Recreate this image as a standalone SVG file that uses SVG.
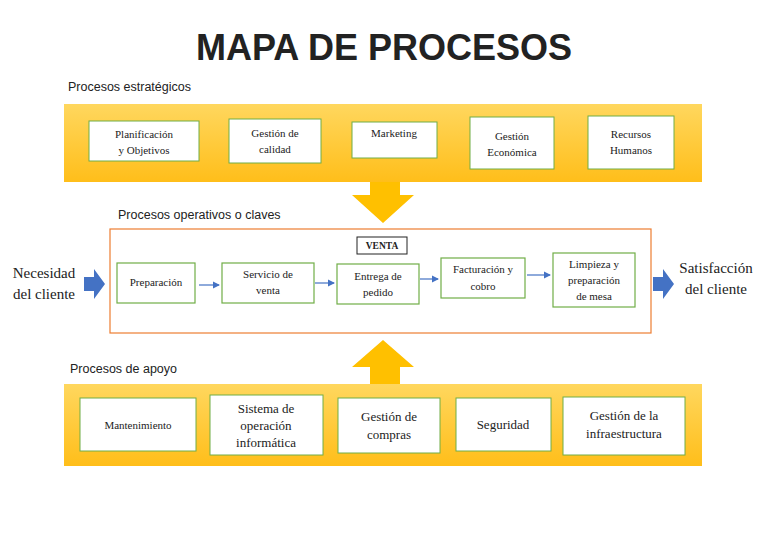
<svg xmlns="http://www.w3.org/2000/svg" width="768" height="543" viewBox="0 0 768 543">
<defs>
<linearGradient id="yg" x1="0" y1="0" x2="0" y2="1"><stop offset="0" stop-color="#FFD75E"/><stop offset="1" stop-color="#FFBE1A"/></linearGradient>
<marker id="ah" markerWidth="6" markerHeight="6" refX="5" refY="3" orient="auto"><path d="M0,0 L6,3 L0,6 z" fill="#4472C4"/></marker>
</defs>
<style>
.band{fill:url(#yg)}
.ybox{fill:#fff;stroke:#70AD47;stroke-width:1}
.gbox{fill:#fff;stroke:#70AD47;stroke-width:1.2}
.t{font-family:"Liberation Serif",serif;font-size:11px;fill:#222;text-anchor:middle}
.tb{font-family:"Liberation Serif",serif;font-size:13px;fill:#222;text-anchor:middle}
.lab{font-family:"Liberation Sans",sans-serif;font-size:12.5px;fill:#222}
.side{font-family:"Liberation Serif",serif;font-size:15px;fill:#222;text-anchor:middle}
.big{fill:#FFC000}
.blue{fill:#4472C4}
.con{stroke:#4472C4;stroke-width:1.2;fill:none;marker-end:url(#ah)}
</style>
<rect width="768" height="543" fill="#fff"/>
<text x="384" y="60" font-family="Liberation Sans,sans-serif" font-weight="bold" font-size="36" text-anchor="middle" fill="#222">MAPA DE PROCESOS</text>
<text class="lab" x="68" y="91">Procesos estratégicos</text>
<rect class="band" x="64" y="104" width="638" height="78"/>
<g id="n-plan"><rect class="ybox" x="89" y="121" width="110" height="40"/><text class="t" x="144" y="138">Planificación</text><text class="t" x="144" y="154">y Objetivos</text></g>
<g id="n-calidad"><rect class="ybox" x="229" y="119" width="92" height="44"/><text class="t" x="275" y="137">Gestión de</text><text class="t" x="275" y="153">calidad</text></g>
<g id="n-mkt"><rect class="ybox" x="352" y="122" width="85" height="36"/><text class="t" x="394" y="137">Marketing</text></g>
<g id="n-eco"><rect class="ybox" x="470" y="117" width="84" height="52"/><text class="t" x="512" y="140">Gestión</text><text class="t" x="512" y="156">Económica</text></g>
<g id="n-rh"><rect class="ybox" x="588" y="116" width="86" height="53"/><text class="t" x="631" y="138">Recursos</text><text class="t" x="631" y="154">Humanos</text></g>
<path class="big" d="M370,182 H400 V195 H414 L383,223 L352,195 H370 Z"/>
<text class="lab" x="118" y="219">Procesos operativos o claves</text>
<g id="n-op"><rect x="110" y="229" width="541" height="104" fill="#fff" stroke="#ED7D31" stroke-width="1.2"/></g>
<g id="n-venta"><rect x="357" y="237" width="50" height="17" fill="#fff" stroke="#222" stroke-width="1"/><text x="382" y="249" font-family="Liberation Serif,serif" font-weight="bold" font-size="9.5" text-anchor="middle" fill="#222">VENTA</text></g>
<g id="n-prep"><rect class="gbox" x="117" y="263" width="78" height="40"/><text class="t" x="156" y="286">Preparación</text></g>
<g id="n-serv"><rect class="gbox" x="222" y="263" width="92" height="40"/><text class="t" x="268" y="278">Servicio de</text><text class="t" x="268" y="294">venta</text></g>
<g id="n-entr"><rect class="gbox" x="337" y="264" width="82" height="40"/><text class="t" x="378" y="280">Entrega de</text><text class="t" x="378" y="296">pedido</text></g>
<g id="n-fact"><rect class="gbox" x="441" y="258" width="84" height="40"/><text class="t" x="483" y="273">Facturación y</text><text class="t" x="483" y="290">cobro</text></g>
<g id="n-limp"><rect class="gbox" x="553" y="253" width="82" height="54"/><text class="t" x="594" y="268">Limpieza y</text><text class="t" x="594" y="284">preparación</text><text class="t" x="594" y="300">de mesa</text></g>
<g id="n-nec"><text class="side" x="44" y="278">Necesidad</text><text class="side" x="44" y="299">del cliente</text><path class="blue" d="M84,277 H94 V269 L105,284 L94,299 V291 H84 Z"/></g>
<g id="n-sat"><text class="side" x="716" y="273">Satisfacción</text><text class="side" x="716" y="294">del cliente</text><path class="blue" d="M653,277 H663 V269 L674,284 L663,299 V291 H653 Z"/></g>
<g id="connectors">
<line class="con" x1="199" y1="285" x2="219" y2="285"/>
<line class="con" x1="315" y1="283" x2="334" y2="283"/>
<line class="con" x1="420" y1="279" x2="438" y2="279"/>
<line class="con" x1="527" y1="275" x2="550" y2="275"/>
</g>
<path class="big" d="M370,384 H400 V367 H414 L383,340 L352,367 H370 Z"/>
<text class="lab" x="70" y="373">Procesos de apoyo</text>
<rect class="band" x="64" y="384" width="638" height="82"/>
<g id="n-mant"><rect class="ybox" x="80" y="398" width="116" height="53"/><text class="t" x="138" y="429">Mantenimiento</text></g>
<g id="n-sis"><rect class="ybox" x="210" y="395" width="113" height="60"/><text class="tb" x="266" y="413">Sistema de</text><text class="tb" x="266" y="430">operación</text><text class="tb" x="266" y="447">informática</text></g>
<g id="n-comp"><rect class="ybox" x="338" y="398" width="102" height="55"/><text class="tb" x="389" y="421">Gestión de</text><text class="tb" x="389" y="439">compras</text></g>
<g id="n-seg"><rect class="ybox" x="456" y="398" width="95" height="53"/><text class="tb" x="503" y="429">Seguridad</text></g>
<g id="n-inf"><rect class="ybox" x="563" y="397" width="122" height="58"/><text class="tb" x="624" y="420">Gestión de la</text><text class="tb" x="624" y="438">infraestructura</text></g>
</svg>
